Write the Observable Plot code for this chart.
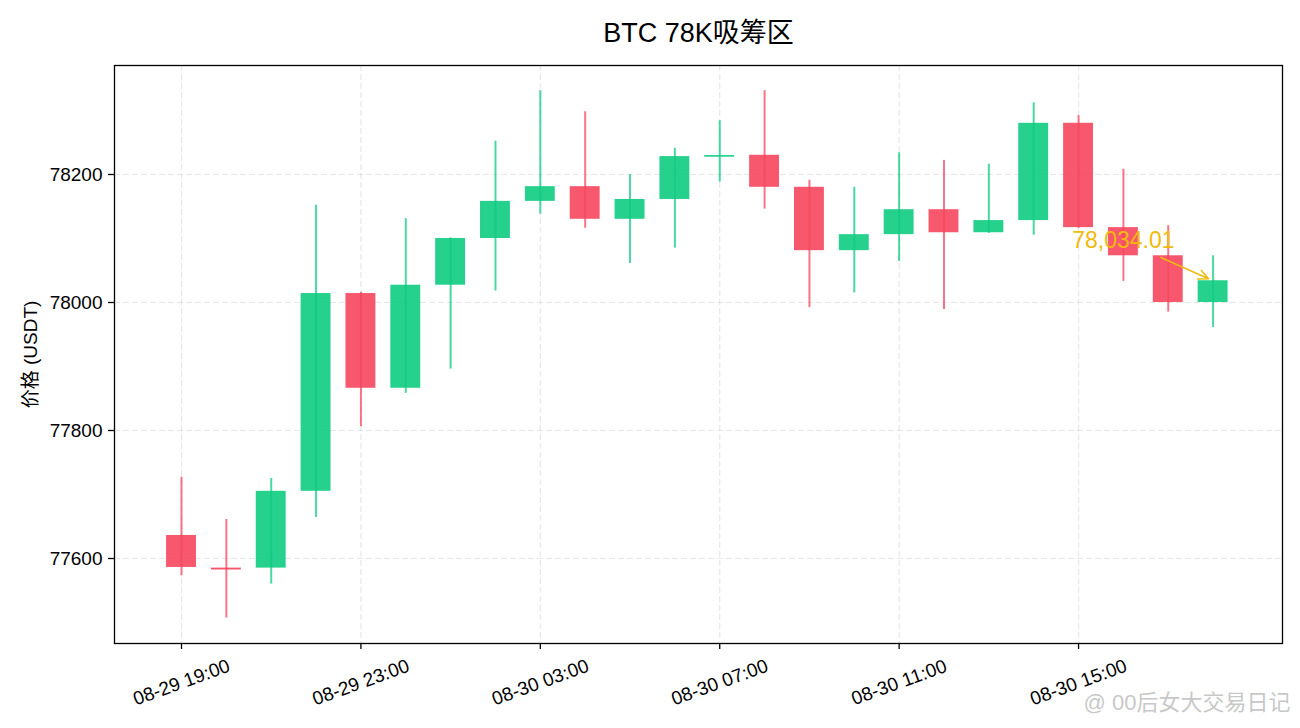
<!DOCTYPE html>
<html><head><meta charset="utf-8">
<script src="https://cdn.jsdelivr.net/npm/d3@7"></script>
<script src="https://cdn.jsdelivr.net/npm/@observablehq/plot@0.6"></script>
<style>html,body{margin:0;padding:0;background:#fff;overflow:hidden}</style>
</head><body><div id="chart"></div>
<script>
// ---- data ----
const times = [
  "2025-08-29T19:00Z","2025-08-29T20:00Z","2025-08-29T21:00Z","2025-08-29T22:00Z",
  "2025-08-29T23:00Z","2025-08-30T00:00Z","2025-08-30T01:00Z","2025-08-30T02:00Z",
  "2025-08-30T03:00Z","2025-08-30T04:00Z","2025-08-30T05:00Z","2025-08-30T06:00Z",
  "2025-08-30T07:00Z","2025-08-30T08:00Z","2025-08-30T09:00Z","2025-08-30T10:00Z",
  "2025-08-30T11:00Z","2025-08-30T12:00Z","2025-08-30T13:00Z","2025-08-30T14:00Z",
  "2025-08-30T15:00Z","2025-08-30T16:00Z","2025-08-30T17:00Z","2025-08-30T18:00Z"
];
const opens  = [77636,77585,77585,77705,78014,77866,78027,78100,78158,78181,78130,78161,
                78228,78230,78180,78081,78106,78145,78109,78128,78280,78117,78073,78000];
const highs  = [77727,77661,77725,78152,78016,78131,78101,78252,78331,78298,78200,78241,
                78284,78331,78191,78180,78234,78222,78216,78312,78292,78208,78120,78073];
const lows   = [77573,77507,77560,77664,77806,77858,77896,78018,78138,78116,78061,78085,
                78188,78146,77992,78015,78064,77989,78108,78105,78116,78033,77985,77961];
const closes = [77586,77584,77705,78014,77866,78027,78100,78158,78181,78130,78161,78228,
                78229,78180,78081,78106,78145,78109,78128,78280,78117,78073,78000,78034.01];
const xTicks = ["2025-08-29T19:00Z","2025-08-29T23:00Z","2025-08-30T03:00Z",
                "2025-08-30T07:00Z","2025-08-30T11:00Z","2025-08-30T15:00Z"];
const yTicks = [77600, 77800, 78000, 78200];
const titleText = "BTC 78K吸筹区";
const yLabelText = "价格 (USDT)";
const annotationText = "78,034.01";
const watermarkText = "@ 00后女大交易日记";

// ---- styles ----
const GREEN = "#0ecb81", RED = "#f6465d", GOLD = "#f0b90b";
const FONT = "'Liberation Sans', Arial, 'Noto Sans CJK SC', sans-serif";
const H = 3600e3;

const data = times.map((t, i) => ({
  t: new Date(t), o: opens[i], h: highs[i], l: lows[i], c: closes[i]
}));
data.forEach(d => d.color = d.c >= d.o ? GREEN : RED);
const dojis = data.filter(d => Math.abs(d.c - d.o) < 2);
const last = data[data.length - 1];
const anno = { x: data[data.length - 3].t, y: last.c * 1.0008, x2: last.t, y2: last.c, text: annotationText };
const xTickDates = xTicks.map(t => new Date(t));
const fmt = d3.utcFormat("%m-%d %H:%M");

const chart = Plot.plot({
  width: 1300, height: 728,
  marginLeft: 114, marginRight: 18, marginTop: 65, marginBottom: 85,
  style: { fontFamily: FONT, fontSize: "19px", background: "#fff", color: "#000" },
  x: { type: "utc", domain: [new Date(data[0].t - 1.494 * H), new Date(+last.t + 1.547 * H)] },
  y: { domain: [77467.2, 78370.3] },
  color: { type: "identity" },
  marks: [
    Plot.gridY(yTicks, { stroke: "#b0b0b0", strokeOpacity: 0.3, strokeDasharray: "6,3", strokeWidth: 1.2 }),
    Plot.gridX(xTickDates, { stroke: "#b0b0b0", strokeOpacity: 0.3, strokeDasharray: "6,3", strokeWidth: 1.2 }),
    Plot.ruleX(data, { x: "t", y1: "l", y2: "h", stroke: "color", strokeWidth: 2, strokeOpacity: 0.75 }),
    Plot.rect(data, {
      x1: d => new Date(+d.t - H / 3), x2: d => new Date(+d.t + H / 3),
      y1: "o", y2: "c", fill: "color", fillOpacity: 0.9
    }),
    Plot.ruleY(dojis, {
      y: "c", x1: d => new Date(+d.t - H / 3), x2: d => new Date(+d.t + H / 3),
      stroke: "color", strokeWidth: 1.5, strokeOpacity: 0.9
    }),
    Plot.frame({ stroke: "#000", strokeWidth: 1.3 }),
    Plot.axisY(yTicks, { tickFormat: d3.format("d"), tickSize: 6, tickPadding: 6, fontSize: 19, label: null, strokeWidth: 1.3 }),
    Plot.axisX(xTickDates, { tickSize: 6, tickFormat: () => "", label: null, strokeWidth: 1.3 }),
    Plot.text(xTickDates, {
      x: d => d, text: d => fmt(d), frameAnchor: "bottom", dy: 39,
      rotate: -20, textAnchor: "middle", lineAnchor: "middle", fontSize: 19
    }),
    Plot.text([yLabelText], { text: d => d, frameAnchor: "left", dx: -84, rotate: -90, textAnchor: "middle", lineAnchor: "middle", fontSize: 19 }),
    Plot.text([titleText], { text: d => d, frameAnchor: "top", dy: -32, textAnchor: "middle", lineAnchor: "middle", fontSize: 27 }),
    Plot.arrow([anno], {
      x1: "x", y1: "y", x2: "x2", y2: "y2", stroke: GOLD, strokeWidth: 1.5,
      insetStart: 41, insetEnd: 5, headLength: 11, headAngle: 50, bend: 0
    }),
    Plot.text([anno], { x: "x", y: "y", text: "text", fill: GOLD, fontSize: 23, textAnchor: "middle", lineAnchor: "middle" }),
    Plot.text([watermarkText], { text: d => d, frameAnchor: "bottom-right", dx: 8, dy: 59, textAnchor: "end", lineAnchor: "middle", fill: "#bdbdbd", fillOpacity: 0.85, fontSize: 22 })
  ]
});
document.getElementById("chart").appendChild(chart);
</script>
</body></html>
